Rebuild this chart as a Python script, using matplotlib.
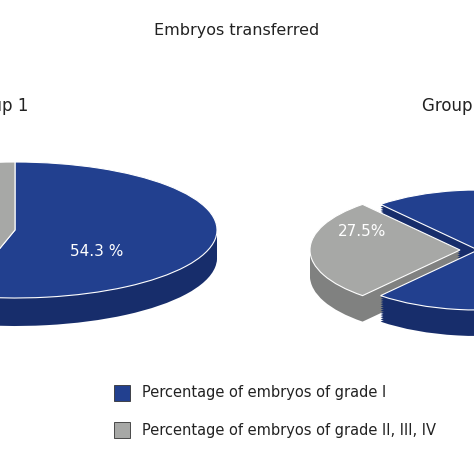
import matplotlib
matplotlib.use("Agg")
import matplotlib.pyplot as plt
from matplotlib.patches import Rectangle

groups = ["Group 1", "Group 2"]
grade1 = [54.3, 72.5]
grade_other = [45.7, 27.5]
labels = ["Percentage of embryos of grade I", "Percentage of embryos of grade II, III, IV"]
blue, blue_d = "#22408f", "#172d6b"
grey, grey_d = "#a7a8a6", "#808180"

W = 474
fig = plt.figure(figsize=(4.74, 4.74), dpi=100)
fig.patch.set_facecolor("white")

def pie3d(cx, cy, rx, ry, depth, vals, start, ccw, explode):
    ax = fig.add_axes([(cx - rx * 1.3) / W, (W - cy - ry - depth) / W, 2.6 * rx / W, (2 * ry + depth) / W])
    d = depth / ry
    for k in range(12, 0, -1):
        off = d * k / 12
        ax.pie(vals, colors=[blue_d, grey_d], startangle=start, counterclock=ccw,
               explode=explode, center=(0, -off), radius=1, frame=True,
               wedgeprops=dict(linewidth=0))
    ax.pie(vals, colors=[blue, grey], startangle=start, counterclock=ccw,
           explode=explode, center=(0, 0), radius=1, frame=True,
           wedgeprops=dict(linewidth=0.8, edgecolor="white"))
    ax.set_xlim(-1.3, 1.3)
    ax.set_ylim(-1 - d, 1)
    ax.set_aspect("auto")
    ax.axis("off")
    return ax

pie3d(15, 230, 202, 68, 28, [grade1[0], grade_other[0]], 90, False, [0, 0])
pie3d(478, 250, 150, 60, 26, [grade1[1], grade_other[1]], 229.5, True, [0, 0.12])

fig.text(97 / W, 1 - 252 / W, "54.3 %", color="white", fontsize=11, ha="center", va="center")
fig.text(362 / W, 1 - 232 / W, "27.5%", color="white", fontsize=11, ha="center", va="center")
fig.text(237 / W, 1 - 30 / W, "Embryos transferred", fontsize=11.5, ha="center", va="center", color="#222222")
fig.text(-38 / W, 1 - 106 / W, groups[0], fontsize=12, ha="left", va="center", color="#222222")
fig.text(422 / W, 1 - 106 / W, groups[1], fontsize=12, ha="left", va="center", color="#222222")

for i, (c, lab) in enumerate(zip([blue, grey], labels)):
    y = 393 + 37 * i
    fig.patches.append(Rectangle((114 / W, 1 - (y + 8) / W), 16 / W, 16 / W,
                                 transform=fig.transFigure, facecolor=c, edgecolor="#333333", lw=0.6))
    fig.text(142 / W, 1 - y / W, lab, fontsize=10.5, ha="left", va="center", color="#222222")

fig.savefig("out.png", dpi=100)
